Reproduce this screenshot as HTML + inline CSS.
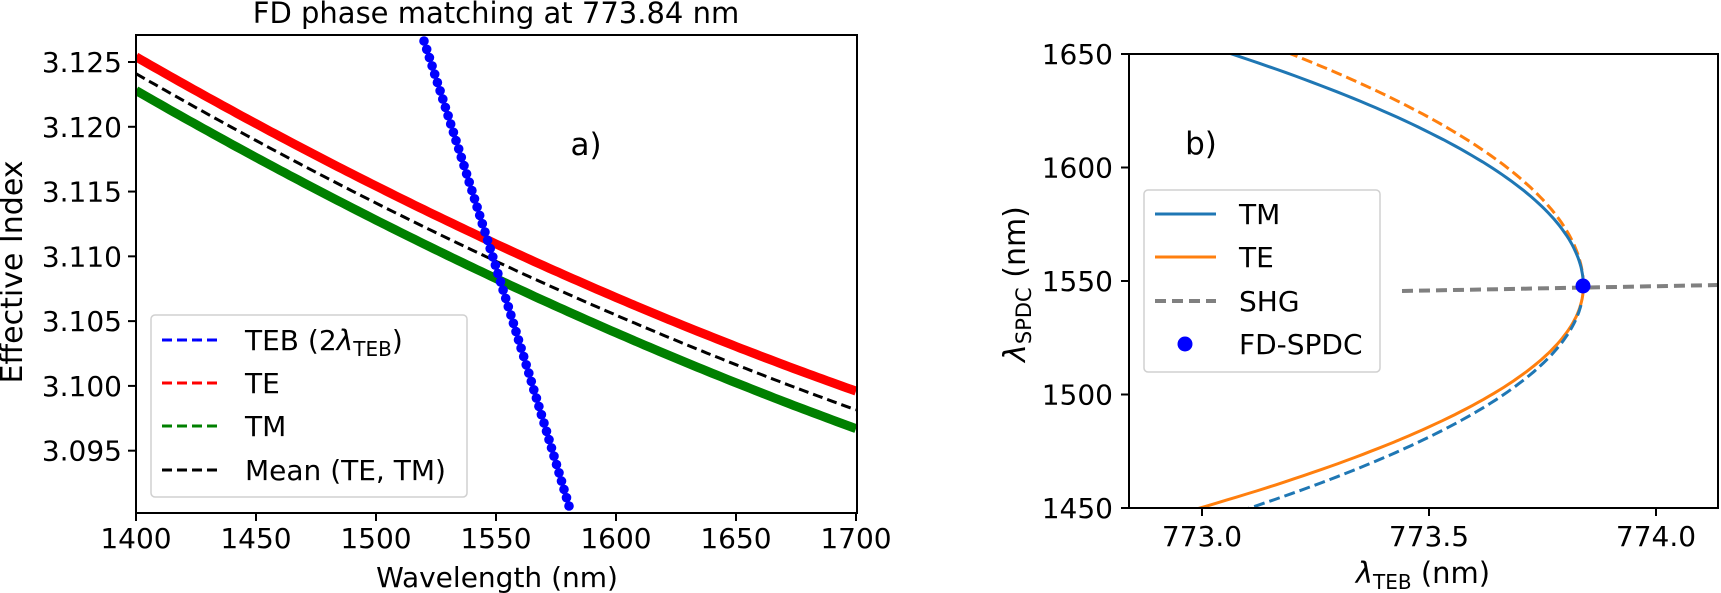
<!DOCTYPE html>
<html><head><meta charset="utf-8">
<style>
html,body{margin:0;padding:0;background:#fff;}
svg{display:block;}
text{font-family:"DejaVu Sans","Liberation Sans",sans-serif;fill:#000;}
</style></head>
<body>
<svg id="s" width="1721" height="593" viewBox="0 0 1721 593" xmlns="http://www.w3.org/2000/svg">
<rect width="1721" height="593" fill="#fff"/>
<text x="496" y="23" font-size="29" text-anchor="middle">FD phase matching at 773.84 nm</text>
<g id="left"></g>
<g id="right"></g>
</svg>
<script>
var NS="http://www.w3.org/2000/svg";
function el(p,t,a,txt){var e=document.createElementNS(NS,t);for(var k in a)e.setAttribute(k,a[k]);if(txt!==undefined)e.textContent=txt;p.appendChild(e);return e;}
var L=document.getElementById('left'),R=document.getElementById('right');
function lx(w){return 136+(w-1400)*2.4;}
function ly(v){return 62+(3.125-v)/0.005*64.78;}
function quad(x0,y0,x1,y1,x2,y2){
 return function(x){return y0*((x-x1)*(x-x2))/((x0-x1)*(x0-x2))+y1*((x-x0)*(x-x2))/((x1-x0)*(x1-x2))+y2*((x-x0)*(x-x1))/((x2-x0)*(x2-x1));};}
var te=quad(1400,3.1254,1546,3.1113,1700,3.0996);
var tm=quad(1400,3.1228,1551,3.1082,1700,3.0967);
function pth(f){var d="";for(var w=1400;w<=1700;w+=2){d+=(w==1400?"M":"L")+lx(w).toFixed(1)+","+ly(f(w)).toFixed(1);}return d;}
el(L,'defs',{}).innerHTML='<clipPath id="cl"><rect x="136" y="35" width="721" height="478"/></clipPath><clipPath id="cr"><rect x="1129" y="54" width="589" height="454"/></clipPath>';
var g=el(L,'g',{'clip-path':'url(#cl)'});
el(g,'path',{d:pth(te),stroke:'#ff0000','stroke-width':9,fill:'none'});
el(g,'path',{d:pth(tm),stroke:'#008000','stroke-width':9,fill:'none'});
el(g,'path',{d:pth(function(w){return (te(w)+tm(w))/2;}),stroke:'#000','stroke-width':3,fill:'none','stroke-dasharray':'10,5'});
var x0=424,y0=41,x1=569,y1=506,N=57;
for(var i=0;i<N;i++){var t=i/(N-1);var cx=x0+(x1-x0)*(t+0.04*t*(1-t)),cy=y0+(y1-y0)*t;el(g,'circle',{cx:cx.toFixed(1),cy:cy.toFixed(1),r:4.8,fill:'#0000ff'});}
el(L,'rect',{x:136,y:35,width:721,height:478,fill:'none',stroke:'#000','stroke-width':2});
[1400,1450,1500,1550,1600,1650,1700].forEach(function(w){var x=lx(w);el(L,'line',{x1:x,y1:513,x2:x,y2:521,stroke:'#000','stroke-width':2});el(L,'text',{x:x,y:548,'font-size':28,'text-anchor':'middle'},String(w));});
[3.125,3.120,3.115,3.110,3.105,3.100,3.095].forEach(function(v){var y=ly(v);el(L,'line',{x1:128,y1:y,x2:136,y2:y,stroke:'#000','stroke-width':2});el(L,'text',{x:122,y:y+10,'font-size':28,'text-anchor':'end'},v.toFixed(3));});
el(L,'text',{x:497,y:587,'font-size':28,'text-anchor':'middle'},'Wavelength (nm)');
el(L,'text',{x:0,y:0,'font-size':30,'text-anchor':'middle',transform:'translate(22,272) rotate(-90)'},'Effective Index');
el(L,'text',{x:586,y:155,'font-size':31,'text-anchor':'middle'},'a)');
el(L,'rect',{x:151,y:315,width:316,height:182,rx:4,fill:'#fff','fill-opacity':0.8,stroke:'#d0d0d0','stroke-width':1.5});
var le=[['#0000ff',340],['#ff0000',383],['#008000',426],['#000',470]];
le.forEach(function(a){el(L,'line',{x1:162,y1:a[1],x2:222,y2:a[1],stroke:a[0],'stroke-width':3,'stroke-dasharray':'10,5'});});
var tt=el(L,'text',{x:245,y:350,'font-size':28});tt.innerHTML='TEB (2<tspan font-style="italic">λ</tspan><tspan font-size="20" dy="6">TEB</tspan><tspan dy="-6">)</tspan>';
el(L,'text',{x:245,y:393,'font-size':28},'TE');
el(L,'text',{x:245,y:436,'font-size':28},'TM');
el(L,'text',{x:245,y:480,'font-size':28},'Mean (TE, TM)');
function rx(v){return 1202+(v-773)*454;}
function ry(v){return 508-(v-1450)*2.27;}
var g2=el(R,'g',{'clip-path':'url(#cr)'});
function br(k,from,to){var d="";var n=80;for(var i=0;i<=n;i++){var yv=from+(to-from)*i/n;var dy=yv-1547.7;var xv=773.84-k*dy*dy;d+=(i?"L":"M")+rx(xv).toFixed(1)+","+ry(yv).toFixed(1);}return d;}
el(g2,'path',{d:br(8.85e-5,1440,1547.7),stroke:'#ff7f0e','stroke-width':3,fill:'none'});
el(g2,'path',{d:br(6.15e-5,1547.7,1660),stroke:'#ff7f0e','stroke-width':3,fill:'none','stroke-dasharray':'11,5'});
el(g2,'path',{d:br(7.7e-5,1440,1540),stroke:'#1f77b4','stroke-width':3,fill:'none','stroke-dasharray':'11,5'});
el(g2,'path',{d:br(7.4e-5,1547.7,1660),stroke:'#1f77b4','stroke-width':3,fill:'none'});
el(g2,'line',{x1:1402,y1:291,x2:1720,y2:285,stroke:'#808080','stroke-width':4,'stroke-dasharray':'11,6'});
el(g2,'circle',{cx:1583,cy:286,r:7.5,fill:'#0000ff'});
el(R,'rect',{x:1129,y:54,width:589,height:454,fill:'none',stroke:'#000','stroke-width':2});
[773.0,773.5,774.0].forEach(function(v){var x=rx(v);el(R,'line',{x1:x,y1:508,x2:x,y2:516,stroke:'#000','stroke-width':2});el(R,'text',{x:x,y:546,'font-size':28,'text-anchor':'middle'},v.toFixed(1));});
[1450,1500,1550,1600,1650].forEach(function(v){var y=ry(v);el(R,'line',{x1:1121,y1:y,x2:1129,y2:y,stroke:'#000','stroke-width':2});el(R,'text',{x:1113,y:y+10,'font-size':28,'text-anchor':'end'},String(v));});
var xl=el(R,'text',{x:1423,y:583,'font-size':29,'text-anchor':'middle'});xl.innerHTML='<tspan font-style="italic">λ</tspan><tspan font-size="20" dy="6">TEB</tspan><tspan dy="-6"> (nm)</tspan>';
var yl=el(R,'text',{x:0,y:0,'font-size':30,'text-anchor':'middle',transform:'translate(1025,284) rotate(-90)'});yl.innerHTML='<tspan font-style="italic">λ</tspan><tspan font-size="21" dy="6">SPDC</tspan><tspan dy="-6"> (nm)</tspan>';
el(R,'text',{x:1201,y:154,'font-size':31,'text-anchor':'middle'},'b)');
el(R,'rect',{x:1144,y:190,width:236,height:182,rx:4,fill:'#fff','fill-opacity':0.8,stroke:'#d0d0d0','stroke-width':1.5});
el(R,'line',{x1:1155,y1:214,x2:1216,y2:214,stroke:'#1f77b4','stroke-width':3});
el(R,'line',{x1:1155,y1:257,x2:1216,y2:257,stroke:'#ff7f0e','stroke-width':3});
el(R,'line',{x1:1155,y1:301,x2:1216,y2:301,stroke:'#808080','stroke-width':4,'stroke-dasharray':'11,6'});
el(R,'circle',{cx:1185,cy:344,r:7.5,fill:'#0000ff'});
el(R,'text',{x:1239,y:224,'font-size':28},'TM');
el(R,'text',{x:1239,y:267,'font-size':28},'TE');
el(R,'text',{x:1239,y:311,'font-size':28},'SHG');
el(R,'text',{x:1239,y:354,'font-size':28},'FD-SPDC');
</script>
</body></html>
